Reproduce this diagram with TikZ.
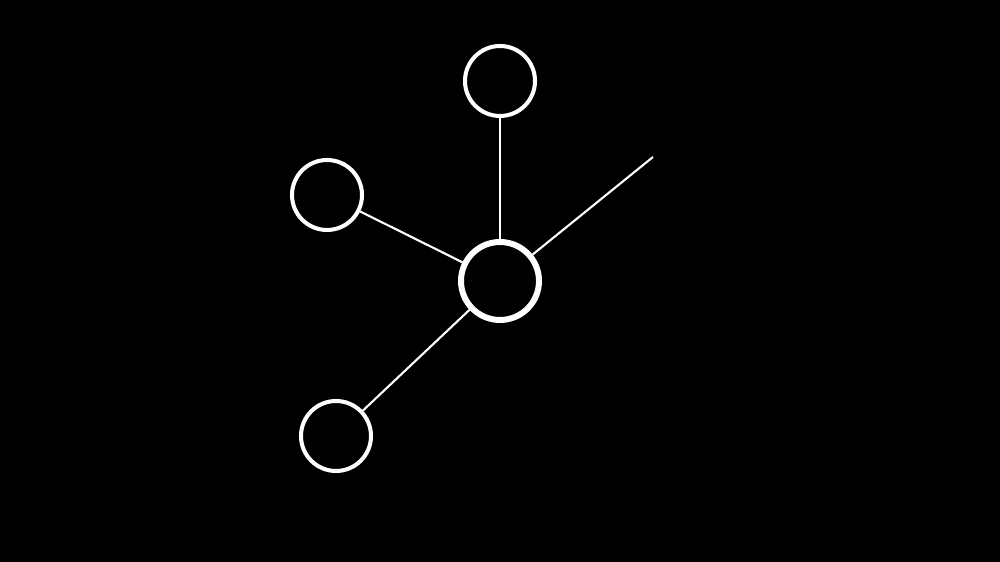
\documentclass[tikz,border=0pt]{standalone}
\usepackage{tikz}
\tikzstyle{atom} = [circle, draw=white, line width=2.3pt, minimum size=1.4cm, inner sep=0pt]
\tikzstyle{hub} = [circle, draw=white, line width=3.4pt, minimum size=1.56cm, inner sep=0pt]
\tikzstyle{bond} = [draw=white, line width=1.2pt]

\begin{document}
\begin{tikzpicture}
    %Background
    \fill[black] (0,0) rectangle (20,11.24);
    \useasboundingbox (0,0) rectangle (20,11.24);

    %Main Nodes
    \node (center) [hub] at (10,5.62) {};
    \node (top) [atom] at (10,9.62) {};
    \node (left) [atom] at (6.54,7.34) {};
    \node (bottom) [atom] at (6.72,2.52) {};
    \coordinate (loose) at (13.06,8.10);

    %Bonds
    \draw [bond] (top) -- (center);
    \draw [bond] (left) -- (center);
    \draw [bond] (bottom) -- (center);
    \draw [bond] (center) -- (loose);

\end{tikzpicture}
\end{document}
